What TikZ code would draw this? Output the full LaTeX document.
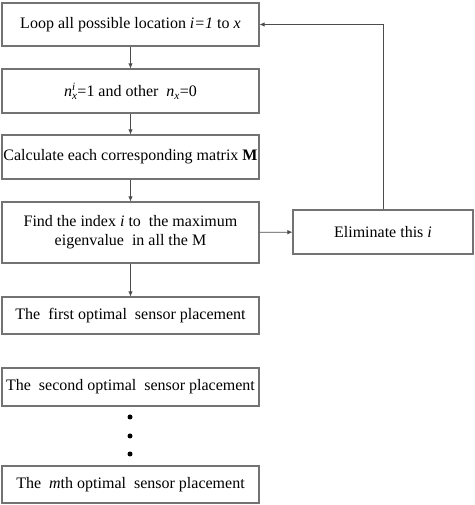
\documentclass[tikz,border=0pt]{standalone}
\usepackage{fontspec}
\setmainfont{Liberation Serif}
\usetikzlibrary{arrows.meta}

\tikzset{
  stepbox/.style={draw=gray!90!black, line width=1.1pt, minimum width=257pt,
    minimum height=#1, inner sep=0pt, align=center, font=\fontsize{16}{19}\selectfont},
  stepbox/.default=44pt,
  flow/.style={-{Latex[length=5pt,width=4.5pt]}, gray!60!black, line width=0.8pt},
  dot/.style={circle, fill=black, inner sep=0pt, minimum size=5pt}
}

\begin{document}
\begin{tikzpicture}[x=1pt,y=1pt]
  \useasboundingbox (0,0) rectangle (474,505);
  % main column
  \node[stepbox=43pt] (loop) at (130.5,480.5) {Loop all possible location \emph{i=1} to \emph{x}};
  \node[stepbox] (init) at (130.5,414) {\emph{n}\rlap{\textsuperscript{\emph{i}}}\textsubscript{\emph{x}}=1 and other\ \ \emph{n}\textsubscript{\emph{x}}=0};
  \node[stepbox] (calc) at (130.5,348) {Calculate each corresponding matrix \textbf{M}};
  \node[stepbox=61pt] (find) at (130.5,272.5) {Find the index \emph{i} to\ \ the maximum\\eigenvalue\ \ in all the M};
  \node[stepbox=37pt] (first) at (130.5,189.5) {The\ \ first optimal\ \ sensor placement};
  \node[stepbox=38pt] (second) at (130.5,118) {The\ \ second optimal\ \ sensor placement};
  \node[stepbox=37pt] (mth) at (130.5,20.5) {The\ \ \emph{m}th optimal\ \ sensor placement};
  % side box
  \node[stepbox, minimum width=180pt] (elim) at (383,273) {Eliminate this \emph{i}};
  % dots between second and mth
  \node[dot] (d1) at (130,88) {};
  \node[dot] (d2) at (130,69) {};
  \node[dot] (d3) at (130,51) {};
  % arrows
  \draw[flow] (loop) -- (init);
  \draw[flow] (init) -- (calc);
  \draw[flow] (calc) -- (find);
  \draw[flow] (find) -- (first);
  \draw[flow] (find) -- (elim);
  \draw[flow] (elim.north) |- (loop.east);
\end{tikzpicture}
\end{document}
